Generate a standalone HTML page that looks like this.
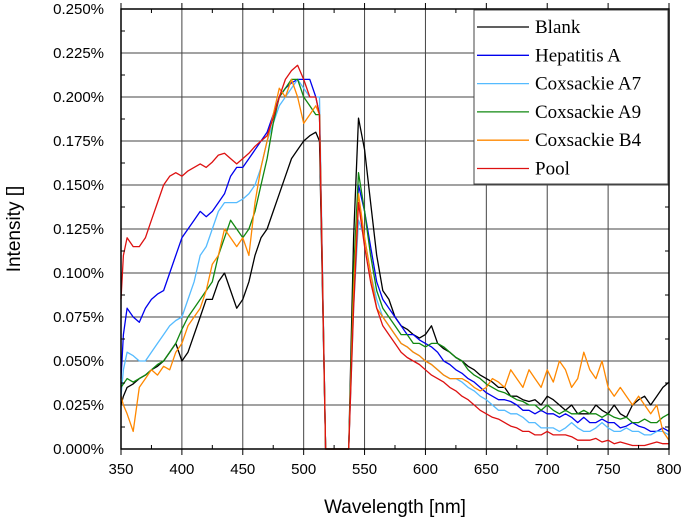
<!DOCTYPE html>
<html><head><meta charset="utf-8"><style>
body{margin:0;background:#fff}
svg{display:block}
</style></head><body>
<svg id="chart" width="685" height="520" xmlns="http://www.w3.org/2000/svg" font-family="Liberation Sans, sans-serif">
<g id="grid"></g>
<g id="series"></g>
<g id="axes"></g>
<text transform="translate(20,229) rotate(-90)" text-anchor="middle" font-size="19">Intensity []</text>
<text x="395" y="513" text-anchor="middle" font-size="19">Wavelength [nm]</text>
<g id="legend"></g>
</svg>
<script>
const xTicks=[350,400,450,500,550,600,650,700,750,800];
const yTicks=[0,0.025,0.05,0.075,0.1,0.125,0.15,0.175,0.2,0.225,0.25];
const yTickLabels=["0.000%","0.025%","0.050%","0.075%","0.100%","0.125%","0.150%","0.175%","0.200%","0.225%","0.250%"];
const wavelengths=[350,352,355,360,365,370,375,380,385,390,395,400,405,410,415,420,425,430,435,440,445,450,455,460,465,470,475,480,485,490,495,500,505,510,513,518,537,541,545,550,555,560,565,570,575,580,585,590,595,600,605,610,615,620,625,630,635,640,645,650,655,660,665,670,675,680,685,690,695,700,705,710,715,720,725,730,735,740,745,750,755,760,765,770,775,780,785,790,795,800];
const seriesNames=["Blank","Hepatitis A","Coxsackie A7","Coxsackie A9","Coxsackie B4","Pool"];
const blank=[0.025,0.03,0.035,0.037,0.04,0.042,0.045,0.047,0.05,0.055,0.06,0.05,0.055,0.065,0.075,0.085,0.085,0.095,0.1,0.09,0.08,0.085,0.095,0.11,0.12,0.125,0.135,0.145,0.155,0.165,0.17,0.175,0.178,0.18,0.175,0,0,0.12,0.188,0.17,0.14,0.11,0.09,0.085,0.075,0.07,0.068,0.065,0.063,0.065,0.07,0.06,0.057,0.055,0.052,0.05,0.047,0.045,0.042,0.04,0.038,0.035,0.035,0.03,0.03,0.028,0.027,0.028,0.025,0.03,0.028,0.025,0.022,0.025,0.02,0.02,0.02,0.025,0.022,0.02,0.025,0.02,0.018,0.025,0.028,0.03,0.025,0.03,0.035,0.038];
const hepA=[0.04,0.065,0.08,0.075,0.072,0.08,0.085,0.088,0.09,0.1,0.11,0.12,0.125,0.13,0.135,0.132,0.135,0.14,0.145,0.155,0.16,0.16,0.165,0.17,0.175,0.18,0.19,0.2,0.205,0.208,0.21,0.21,0.21,0.2,0.19,0,0,0.09,0.15,0.135,0.115,0.095,0.085,0.08,0.075,0.07,0.065,0.065,0.062,0.06,0.058,0.055,0.05,0.048,0.045,0.043,0.04,0.038,0.035,0.032,0.03,0.028,0.028,0.027,0.025,0.022,0.022,0.02,0.022,0.02,0.02,0.018,0.02,0.018,0.015,0.018,0.015,0.015,0.017,0.015,0.015,0.012,0.013,0.015,0.013,0.012,0.01,0.01,0.012,0.01];
const coxA7=[0.03,0.045,0.055,0.053,0.05,0.05,0.055,0.06,0.065,0.07,0.073,0.075,0.085,0.095,0.11,0.115,0.125,0.135,0.14,0.14,0.14,0.142,0.145,0.15,0.16,0.175,0.185,0.195,0.2,0.205,0.21,0.205,0.2,0.2,0.2,0,0,0.08,0.13,0.12,0.1,0.085,0.075,0.07,0.065,0.06,0.058,0.055,0.053,0.05,0.048,0.045,0.042,0.04,0.04,0.038,0.035,0.033,0.03,0.028,0.025,0.022,0.022,0.02,0.02,0.018,0.015,0.015,0.012,0.012,0.012,0.01,0.012,0.015,0.012,0.01,0.01,0.012,0.015,0.012,0.01,0.01,0.012,0.01,0.01,0.008,0.008,0.01,0.01,0.008];
const coxA9=[0.035,0.037,0.04,0.038,0.04,0.042,0.045,0.048,0.05,0.055,0.06,0.068,0.075,0.08,0.085,0.09,0.095,0.11,0.12,0.13,0.125,0.12,0.125,0.135,0.15,0.165,0.185,0.2,0.205,0.21,0.21,0.2,0.195,0.19,0.19,0,0,0.1,0.157,0.135,0.11,0.09,0.08,0.075,0.07,0.065,0.065,0.06,0.06,0.058,0.06,0.06,0.058,0.055,0.052,0.05,0.045,0.042,0.04,0.037,0.035,0.033,0.032,0.03,0.028,0.027,0.025,0.025,0.022,0.025,0.022,0.02,0.022,0.02,0.02,0.022,0.02,0.02,0.018,0.02,0.018,0.017,0.018,0.015,0.015,0.017,0.015,0.015,0.018,0.02];
const coxB4=[0.03,0.025,0.02,0.01,0.035,0.04,0.045,0.042,0.047,0.045,0.055,0.06,0.07,0.075,0.08,0.09,0.105,0.11,0.125,0.12,0.115,0.12,0.11,0.14,0.16,0.175,0.19,0.205,0.2,0.21,0.2,0.185,0.19,0.195,0.19,0,0,0.09,0.145,0.12,0.1,0.08,0.075,0.07,0.065,0.06,0.058,0.055,0.053,0.05,0.048,0.045,0.042,0.04,0.04,0.04,0.038,0.035,0.033,0.035,0.04,0.038,0.035,0.045,0.04,0.035,0.045,0.04,0.035,0.045,0.038,0.05,0.045,0.035,0.04,0.055,0.045,0.04,0.05,0.035,0.03,0.035,0.03,0.025,0.03,0.025,0.02,0.025,0.01,0.005];
const pool=[0.085,0.11,0.12,0.115,0.115,0.12,0.13,0.14,0.15,0.155,0.157,0.155,0.158,0.16,0.162,0.16,0.163,0.167,0.168,0.165,0.162,0.165,0.168,0.172,0.175,0.178,0.188,0.2,0.21,0.215,0.218,0.21,0.2,0.2,0.19,0,0,0.08,0.14,0.115,0.095,0.08,0.07,0.065,0.06,0.055,0.052,0.05,0.048,0.045,0.042,0.04,0.038,0.035,0.033,0.03,0.028,0.025,0.022,0.02,0.018,0.017,0.015,0.013,0.012,0.01,0.01,0.008,0.008,0.01,0.008,0.008,0.008,0.007,0.005,0.005,0.005,0.006,0.004,0.005,0.003,0.004,0.003,0.002,0.002,0.002,0.003,0.004,0.003,0.003];
const seriesColors=["#000000","#0000ee","#55bbff","#118811","#ff8800","#dd1111"];
const seriesData=[blank,hepA,coxA7,coxA9,coxB4,pool];

const NS="http://www.w3.org/2000/svg";
const L=121,R=669,T=9,B=449;
const xs=v=>L+(v-350)/(800-350)*(R-L);
const ys=v=>B-(v/0.25)*(B-T);
function mk(tag,attrs,parent){const e=document.createElementNS(NS,tag);for(const k in attrs)e.setAttribute(k,attrs[k]);parent.appendChild(e);return e;}
const grid=document.getElementById('grid'),axes=document.getElementById('axes'),ser=document.getElementById('series'),leg=document.getElementById('legend');
xTicks.forEach((t,i)=>{
  const x=xs(t);
  const g=mk('line',{x1:x,x2:x,y1:T,y2:B,stroke:'#444','stroke-width':1},grid);
  
  
  const lb=mk('text',{x:x,y:474,'text-anchor':'middle','font-size':15},axes);
  lb.textContent=t;
  
  
  [B,T].forEach(yy=>{const d=yy===B?-1:1;mk('line',{x1:x,x2:x,y1:yy,y2:yy+d*-6*(yy===B?-1:-1)*-1,stroke:'#000'},axes);});
  if(i<xTicks.length-1){const xm=xs(t+25);mk('line',{x1:xm,x2:xm,y1:B,y2:B-4,stroke:'#000'},axes);mk('line',{x1:xm,x2:xm,y1:T,y2:T+4,stroke:'#000'},axes);}
});
yTicks.forEach((t,i)=>{
  const y=ys(t);
  const g=mk('line',{x1:L,x2:R,y1:y,y2:y,stroke:'#444','stroke-width':1},grid);
  
  
  const lb=mk('text',{x:104,y:y+5,'text-anchor':'end','font-size':15},axes);
  lb.textContent=yTickLabels[i];
  
  
  if(i<yTicks.length-1){const ym=ys(t+0.0125);mk('line',{x1:L,x2:L+4,y1:ym,y2:ym,stroke:'#000'},axes);mk('line',{x1:R,x2:R-4,y1:ym,y2:ym,stroke:'#000'},axes);}
});
const frame=mk('rect',{x:L,y:T,width:R-L,height:B-T,fill:'none',stroke:'#000','stroke-width':1.5},axes);


seriesData.forEach((d,si)=>{
  const pts=d.map((v,i)=>xs(wavelengths[i]).toFixed(1)+','+ys(v).toFixed(1)).join(' ');
  const p=mk('polyline',{points:pts,fill:'none',stroke:seriesColors[si],'stroke-width':1.3,'stroke-linejoin':'round'},ser);
  
  
});
const box=mk('rect',{x:474,y:10,width:194,height:174,fill:'#fff',stroke:'#444','stroke-width':1},leg);


seriesNames.forEach((n,i)=>{
  const y=27+i*28.3;
  const ln=mk('line',{x1:477,x2:529,y1:y,y2:y,stroke:seriesColors[i],'stroke-width':1.3},leg);
  
  
  const tx=mk('text',{x:535,y:y+6,'font-size':19,'font-family':'Liberation Serif, serif'},leg);
  tx.textContent=n;
  
  
});
</script>
</body></html>
